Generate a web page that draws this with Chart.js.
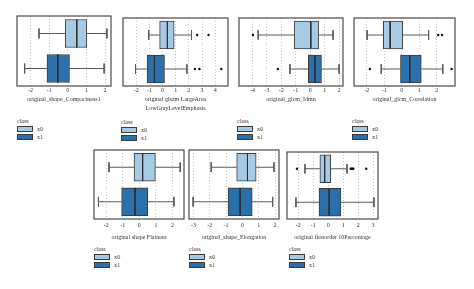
<!DOCTYPE html>
<html>
<head>
<meta charset="utf-8">
<script src="https://cdn.jsdelivr.net/npm/chart.js@4.4.0/dist/chart.umd.min.js"></script>
<style>
    body { margin: 0; background: #fff; width: 474px; height: 289px; position: relative; overflow: hidden; font-family: "Liberation Serif", serif; }
    canvas { position: absolute; }
    .lg { position: absolute; font-size: 6px; line-height: 6px; color: #333; white-space: nowrap; }
    .sw { position: absolute; width: 14px; height: 4px; border: 1px solid #3b3b3b; }
</style>
</head>
<body>
<script>
// Dữ liệu: tên trục, vạch chia, giới hạn trục
const panelTitles = [
    'original_shape_Compactness1',
    ['original glszm LargeArea', 'LowGrayLevelEmphasis'],
    'original_glcm_Idmn',
    'original_glcm_Correlation',
    'original shape Flatness',
    'original_shape_Elongation',
    'original firstorder 10Percentage'
];
const tickValues = [
    [-2, -1, 0, 1, 2],
    [-2, -1, 0, 1, 2, 3, 4],
    [-4, -3, -2, -1, 0, 1, 2],
    [-2, -1, 0, 1, 2],
    [-2, -1, 0, 1, 2],
    [-3, -2, -1, 0, 1, 2],
    [-2, -1, 0, 1, 2, 3]
];
const axisMin = [-2.73, -3.0, -4.93, -2.73, -2.74, -3.27, -2.76];
const axisMax = [2.32, 4.97, 2.27, 3.05, 2.70, 2.24, 3.33];

const classes = ['x0', 'x1'];
// [râu dưới, Q1, trung vị, Q3, râu trên]
const x0Boxes = [
    [-1.55, -0.14, 0.48, 1.02, 2.10],
    [-1.05, -0.22, 0.37, 0.88, 2.20],
    [-3.60, -1.11, 0.04, 0.58, 1.58],
    [-1.98, -1.05, -0.66, 0.06, 1.54],
    [-1.83, -0.32, 0.20, 0.97, 2.47],
    [-1.91, -0.35, 0.31, 0.84, 1.93],
    [-1.56, -0.56, -0.24, 0.17, 1.26]
];
const x1Boxes = [
    [-2.32, -1.12, -0.54, 0.09, 1.95],
    [-2.05, -1.17, -0.61, 0.15, 1.85],
    [-1.40, -0.13, 0.33, 0.78, 2.00],
    [-1.17, -0.07, 0.46, 1.12, 2.35],
    [-2.47, -1.07, -0.26, 0.51, 2.09],
    [-3.02, -0.88, -0.14, 0.60, 1.85],
    [-2.16, -0.62, 0.06, 0.85, 3.06]
];
const x0Outliers = [[], [2.63, 3.49], [-3.96], [2.09, 2.31], [], [], [-2.09, 1.50, 1.56, 1.62, 1.68, 2.54]];
const x1Outliers = [[], [2.46, 2.80, 4.46], [-2.24], [-1.82, 2.86], [], [], []];

// Bố cục: khung [trái, trên, phải, dưới]
const panelFrames = [
    [17, 16, 111, 86], [121, 16, 230, 86], [237, 16, 345, 86], [352, 16, 457, 86],
    [94, 150, 184, 219], [189, 150, 279, 219], [285, 150, 380, 219]
];
const legendPos = [
    [17, 118], [121, 119], [237, 118], [352, 118],
    [94, 246], [189, 246], [289, 246]
];
const boxColors = ['#a6c9e4', '#2b6fab'];
const PAD = 2;

// Vẽ khung viền quanh vùng biểu đồ
const framePlugin = {
    id: 'frame',
    beforeDatasetsDraw(chart) {
        const { ctx, chartArea: a } = chart;
        ctx.save();
        ctx.strokeStyle = '#4a4a4a';
        ctx.lineWidth = 1.2;
        ctx.strokeRect(a.left, a.top, a.right - a.left, a.bottom - a.top);
        ctx.restore();
    }
};

function buildDatasets(i, thickness) {
    const stats = [x0Boxes[i], x1Boxes[i]];
    const sets = [{
        type: 'bar',
        data: stats.map((s, k) => ({ x: [s[1], s[3]], y: k })),
        backgroundColor: boxColors,
        borderColor: '#3b3b3b',
        borderWidth: 1,
        borderSkipped: false,
        barThickness: thickness,
        order: 2
    }];
    const seg = (pts, color) => sets.push({
        type: 'line', data: pts, borderColor: color, borderWidth: 1,
        pointRadius: 0, fill: false, order: 1
    });
    stats.forEach((s, k) => {
        seg([{ x: s[0], y: k }, { x: s[1], y: k }], '#5a5a5a');
        seg([{ x: s[3], y: k }, { x: s[4], y: k }], '#5a5a5a');
        seg([{ x: s[0], y: k - 0.14 }, { x: s[0], y: k + 0.14 }], '#5a5a5a');
        seg([{ x: s[4], y: k - 0.14 }, { x: s[4], y: k + 0.14 }], '#5a5a5a');
        seg([{ x: s[2], y: k - 0.4 }, { x: s[2], y: k + 0.4 }], '#2f2f2f');
    });
    sets.push({
        type: 'scatter',
        data: x0Outliers[i].map(v => ({ x: v, y: 0 })).concat(x1Outliers[i].map(v => ({ x: v, y: 1 }))),
        pointRadius: 1.2,
        backgroundColor: '#111',
        borderWidth: 0,
        order: 0
    });
    return sets;
}

function drawPanel(i) {
    const [left, top, right, bottom] = panelFrames[i];
    const topRow = i < 4;
    const multi = Array.isArray(panelTitles[i]);
    const lineH = multi ? 1.5 : 1.2;
    const titleOffset = topRow ? 13 : 18;
    const axisH = titleOffset + 6 * lineH / 2 + (multi ? 6 * lineH : 0);
    const w = right - left + 2 * PAD;
    const hExact = PAD + (bottom - top) + axisH;
    const h = Math.ceil(hExact);

    const canvas = document.createElement('canvas');
    canvas.width = w;
    canvas.height = h;
    canvas.style.left = (left - PAD) + 'px';
    canvas.style.top = (top - PAD) + 'px';
    document.body.appendChild(canvas);

    // hộp chiếm 0.8 đơn vị trên trục y (-0.5 .. 1.5)
    const thickness = (bottom - top) * 0.4;

    new Chart(canvas.getContext('2d'), {
        type: 'bar',
        data: { datasets: buildDatasets(i, thickness) },
        options: {
            responsive: false,
            animation: false,
            indexAxis: 'y',
            layout: { padding: { left: PAD, right: PAD, top: PAD, bottom: h - hExact } },
            plugins: { legend: { display: false }, tooltip: { enabled: false } },
            scales: {
                x: {
                    type: 'linear',
                    min: axisMin[i],
                    max: axisMax[i],
                    afterBuildTicks: s => { s.ticks = tickValues[i].map(v => ({ value: v })); },
                    afterFit: s => { s.height = axisH; },
                    grid: { color: '#c4c4c4', drawTicks: false },
                    border: { display: false, dash: [1, 2] },
                    ticks: {
                        padding: topRow ? 1 : 3,
                        color: '#333',
                        font: { family: 'Liberation Serif', size: 6 },
                        callback: v => String(v)
                    },
                    title: {
                        display: true,
                        text: panelTitles[i],
                        color: '#333',
                        padding: 0,
                        font: { family: 'Liberation Serif', size: 6, lineHeight: lineH }
                    }
                },
                y: {
                    type: 'linear',
                    display: false,
                    offset: false,
                    reverse: true,
                    min: -0.5,
                    max: 1.5
                }
            }
        },
        plugins: [framePlugin]
    });

    // Chú thích
    const [lx, ly] = legendPos[i];
    const t = document.createElement('div');
    t.className = 'lg';
    t.style.left = lx + 'px';
    t.style.top = ly + 'px';
    t.textContent = 'class';
    document.body.appendChild(t);
    classes.forEach((c, k) => {
        const sw = document.createElement('div');
        sw.className = 'sw';
        sw.style.left = lx + 'px';
        sw.style.top = (ly + 8 + k * 8) + 'px';
        sw.style.background = boxColors[k];
        document.body.appendChild(sw);
        const lab = document.createElement('div');
        lab.className = 'lg';
        lab.style.left = (lx + 20) + 'px';
        lab.style.top = (ly + 8 + k * 8) + 'px';
        lab.textContent = c;
        document.body.appendChild(lab);
    });
}

panelFrames.forEach((f, i) => drawPanel(i));
</script>
</body>
</html>
